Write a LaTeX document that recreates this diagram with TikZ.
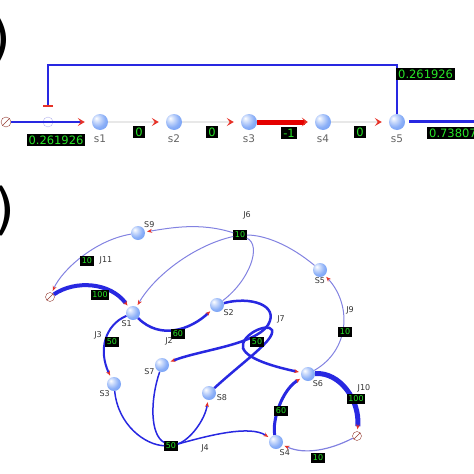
\documentclass[tikz,border=0pt]{standalone}
\usepackage{fontspec}
\setmainfont{DejaVu Sans}
\usetikzlibrary{arrows.meta}
\definecolor{ballblue}{RGB}{110,155,245}
\definecolor{edgeblue}{RGB}{40,40,225}
\definecolor{lightedge}{RGB}{130,130,225}
\definecolor{valgreen}{RGB}{40,230,40}
\definecolor{tipred}{RGB}{230,50,40}
\definecolor{sinkred}{RGB}{150,60,50}
\definecolor{flowgray}{RGB}{232,232,232}
\definecolor{namegray}{RGB}{100,100,100}
\pgfdeclareradialshading{lightball}{\pgfpoint{-12bp}{12bp}}{color(0bp)=(white);
  color(10bp)=(ballblue!35!white); color(24bp)=(ballblue!80!white);
  color(40bp)=(ballblue); color(70bp)=(ballblue!80!blue)}

\begin{document}
\begin{tikzpicture}[x=1pt,y=-1pt,
  species/.style={circle, shading=lightball, minimum size=16pt, inner sep=0pt},
  smallspecies/.style={species, minimum size=14pt},
  sink/.style={circle, draw=sinkred, minimum size=10pt, inner sep=0pt,
    path picture={\draw[sinkred] (path picture bounding box.south west) -- (path picture bounding box.north east);}},
  valbox/.style={fill=black, text=valgreen, inner sep=2pt, font=\fontsize{11.5}{13}\selectfont},
  smallbox/.style={fill=black, text=valgreen, inner sep=1.5pt, font=\fontsize{8}{9}\selectfont},
  slabel/.style={text=namegray, font=\fontsize{10.5}{12}\selectfont, inner sep=1pt, label distance=3pt},
  blabel/.style={text=black!80, font=\fontsize{8}{9}\selectfont, inner sep=0.5pt, label distance=0pt},
  jlabel/.style={text=black!80, font=\fontsize{8}{9}\selectfont, inner sep=0.5pt},
  bigtip/.style={-{Stealth[color=tipred, length=7pt, width=8pt, inset=3pt]}},
  redtip/.style={-{Stealth[color=tipred, length=5pt, width=4pt]}, shorten >=2pt},
  flux/.style={draw=edgeblue, line width=2pt},
  thinflux/.style={draw=lightedge, line width=1pt}]
\useasboundingbox (0,0) rectangle (474,474);

% panel labels, cut at the left edge
\node (pa) at (12,40) [anchor=east, inner sep=0pt, font=\fontsize{56}{56}\selectfont] {)};
\node (pb) at (16,211) [anchor=east, inner sep=0pt, font=\fontsize{56}{56}\selectfont] {)};

% chain
\node (zero) at (6,122) [sink] {};
\node (src) at (48,122) [circle, draw=lightedge!60, minimum size=10pt, inner sep=0pt] {};
\node (s1) at (100,122) [species, label={[slabel]below:s1}] {};
\node (s2) at (174,122) [species, label={[slabel]below:s2}] {};
\node (s3) at (249,122) [species, label={[slabel]below:s3}] {};
\node (s4) at (323,122) [species, label={[slabel]below:s4}] {};
\node (s5) at (397,122) [species, label={[slabel]below:s5}] {};
\coordinate (fbtop) at (48,65);
\coordinate (inh) at (48,107);
\coordinate (outend) at (480,121);

\draw[flux, bigtip, shorten >=7pt] (zero) -- (s1);
\draw[draw=flowgray, line width=2pt, bigtip, shorten >=7pt] (s1) -- (s2);
\draw[draw=flowgray, line width=2pt, bigtip, shorten >=7pt] (s2) -- (s3);
\draw[draw=red!90!black, line width=5pt, -{Stealth[color=tipred, length=6pt, width=9pt, inset=3pt]}, shorten >=7pt] (s3) -- (s4);
\draw[draw=flowgray, line width=2pt, bigtip, shorten >=7pt] (s4) -- (s5);
\draw[flux, line width=2.5pt, -{Bar[color=tipred, width=10pt, line width=2pt]}] (s5) |- (fbtop) -- (inh);
\draw[flux, line width=3pt, shorten <=4pt] (s5.east |- outend) -- (outend);

\node (v1) at (56,140) [valbox] {0.261926};
\node (v2) at (139,132) [valbox] {0};
\node (v3) at (212,132) [valbox] {0};
\node (v4) at (289,133) [valbox] {-1};
\node (v5) at (360,132) [valbox] {0};
\node (v6) at (396,74) [valbox, anchor=west] {0.261926};
\node (v7) at (427,133) [valbox, anchor=west] {0.738074};

% network
\node (sink1) at (50,297) [sink, minimum size=9pt] {};
\node (sink2) at (357,436) [sink, minimum size=9pt] {};
\node (S9) at (138,233) [smallspecies, label={[blabel]40:S9}] {};
\node (S1) at (133,313) [smallspecies, label={[blabel]-95:S1}] {};
\node (S2) at (217,305) [smallspecies, label={[blabel]-35:S2}] {};
\node (S5) at (320,270) [smallspecies, label={[blabel]-90:S5}] {};
\node (S3) at (114,384) [smallspecies, label={[blabel]-120:S3}] {};
\node (S7) at (162,365) [smallspecies, label={[blabel]200:S7}] {};
\node (S8) at (209,393) [smallspecies, label={[blabel]-10:S8}] {};
\node (S6) at (308,374) [smallspecies, label={[blabel]-55:S6}] {};
\node (S4) at (276,442) [smallspecies, label={[blabel]-65:S4}] {};

\node (j6) at (240,235) [smallbox] {10};
\node (j4) at (171,446) [smallbox] {50};

\draw[thinflux] (S5) .. controls (290,245) and (265,235) .. (j6);
\draw[thinflux, redtip] (j6) .. controls (200,222) and (170,228) .. (S9);
\draw[thinflux, redtip] (j6) .. controls (195,245) and (155,275) .. (S1);
\draw[thinflux] (S2) .. controls (250,280) and (262,245) .. (j6);
\draw[thinflux, redtip] (S9) .. controls (95,240) and (62,270) .. (sink1);
\draw[flux, line width=4pt, redtip] (sink1) .. controls (75,280) and (110,282) .. (S1);
\draw[flux, line width=2.5pt, redtip] (S1) .. controls (160,340) and (190,330) .. (S2);
\draw[flux, redtip] (S1) .. controls (105,325) and (98,350) .. (S3);
\draw[flux, line width=1.5pt] (S3) .. controls (118,425) and (145,445) .. (j4);
\draw[flux, line width=1.5pt] (S7) .. controls (150,400) and (150,435) .. (j4);
\draw[flux, line width=1.5pt, redtip] (j4) .. controls (190,440) and (205,420) .. (S8);
\draw[flux, line width=1.5pt, redtip] (j4) .. controls (210,435) and (250,425) .. (S4);
\draw[flux, line width=2.5pt, redtip] (S2) .. controls (250,296) and (280,305) .. (268,325)
  .. controls (255,345) and (200,350) .. (S7);
\draw[flux, line width=2.5pt, redtip] (S8) .. controls (245,360) and (275,340) .. (272,330)
  .. controls (268,322) and (240,335) .. (243,348) .. controls (247,360) and (280,368) .. (S6);
\draw[flux, line width=3pt, redtip] (S4) .. controls (272,420) and (282,390) .. (S6);
\draw[flux, line width=5pt, redtip] (S6) .. controls (340,372) and (360,400) .. (sink2);
\draw[thinflux, line width=1.2pt, redtip] (sink2) .. controls (330,450) and (305,455) .. (S4);
\draw[thinflux, redtip] (S6) .. controls (350,350) and (352,305) .. (S5);

\node (b11) at (87,261) [smallbox] {10};
\node (b1) at (100,295) [smallbox] {100};
\node (b2) at (178,334) [smallbox] {60};
\node (b3) at (112,342) [smallbox] {50};
\node (b7) at (257,342) [smallbox] {50};
\node (b5) at (281,411) [smallbox] {60};
\node (b10) at (356,399) [smallbox] {100};
\node (b8) at (318,458) [smallbox] {10};
\node (b9) at (345,332) [smallbox] {10};

\node (l6) at (247,215) [jlabel] {J6};
\node (l11) at (106,260) [jlabel] {J11};
\node (l2) at (169,341) [jlabel] {J2};
\node (l3) at (98,335) [jlabel] {J3};
\node (l7) at (281,319) [jlabel] {J7};
\node (l4) at (205,448) [jlabel] {J4};
\node (l10) at (364,388) [jlabel] {J10};
\node (l9) at (350,310) [jlabel] {J9};
\end{tikzpicture}
\end{document}
